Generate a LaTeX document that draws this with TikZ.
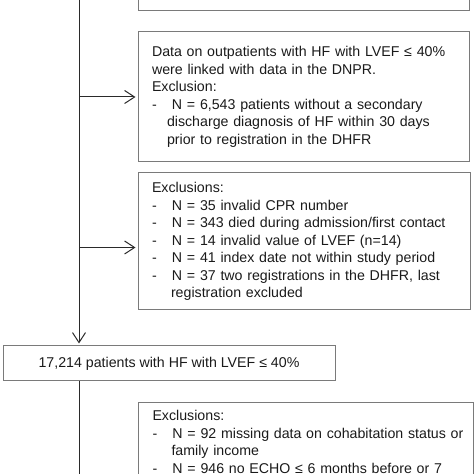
\documentclass[tikz,border=0pt]{standalone}
\usepackage{fontspec}
\setmainfont{Liberation Sans}
\usetikzlibrary{arrows.meta}
\definecolor{linec}{HTML}{2A2A2A}
\definecolor{boxc}{HTML}{7A7A7A}
\definecolor{txtc}{HTML}{1A1A1A}
\tikzset{
  box/.style={draw=boxc, line width=1pt, rectangle, inner sep=0pt, text=txtc, font=\fontsize{14.2}{17.5}\selectfont},
  arr/.style={draw=linec, line width=1pt, -{Straight Barb[length=10pt,width=13pt,line width=1pt]}, shorten >=2pt},
  ln/.style={draw=linec, line width=1pt}
}
\newcommand{\dsh}{\makebox[20pt][l]{-}}
\begin{document}
\begin{tikzpicture}[x=1pt,y=1pt]
\useasboundingbox (0,0) rectangle (474,474);
\clip (0,0) rectangle (474,474);
% top box (cut)
\node[box, minimum width=331pt, minimum height=40pt, anchor=south west] (b1) at (138,463) {};
% box 2
\node[box, minimum width=331pt, minimum height=130pt, text width=303pt, align=left] (b2) at (303.5,377) {\mbox{Data on outpatients with HF with LVEF ≤ 40\%}\\were linked with data in the DNPR.\\Exclusion:\\\mbox{\dsh N = 6,543 patients without a secondary}\\\mbox{\hspace*{15pt}discharge diagnosis of HF within 30 days}\\\hspace*{15pt}prior to registration in the DHFR};
% box 3
\node[box, minimum width=332pt, minimum height=137pt, text width=304pt, align=left] (b3) at (304,232.5) {Exclusions:\\\dsh N = 35 invalid CPR number\\\mbox{\dsh N = 343 died during admission/first contact}\\\dsh N = 14 invalid value of LVEF (n=14)\\\mbox{\dsh N = 41 index date not within study period}\\\mbox{\dsh N = 37 two registrations in the DHFR, last}\\\hspace*{19pt}registration excluded};
% box 4
\node[box, minimum width=332pt, minimum height=35pt, align=center] (b4) at (169,110.5) {17,214 patients with HF with LVEF ≤ 40\%};
% box 5 (cut)
\node[box, anchor=north west, text width=307pt, align=left, inner xsep=14pt, inner ysep=8pt, minimum width=335pt] (b5) at (138,72) {Exclusions:\\\mbox{\dsh N = 92 missing data on cohabitation status or}\\\hspace*{19pt}family income\\\mbox{\dsh N = 946 no ECHO ≤ 6 months before or 7}};
% trunk
\coordinate (ttop) at (79,480);
\coordinate (tbot) at (79,-10);
\draw[arr] (ttop) -- (ttop |- b4.north);
\draw[ln] (b4.south -| ttop) -- (tbot);
\draw[arr] (b2.west -| ttop) -- (b2.west);
\draw[arr] ([yshift=-6pt]b3.west -| ttop) -- ([yshift=-6pt]b3.west);
\end{tikzpicture}
\end{document}
